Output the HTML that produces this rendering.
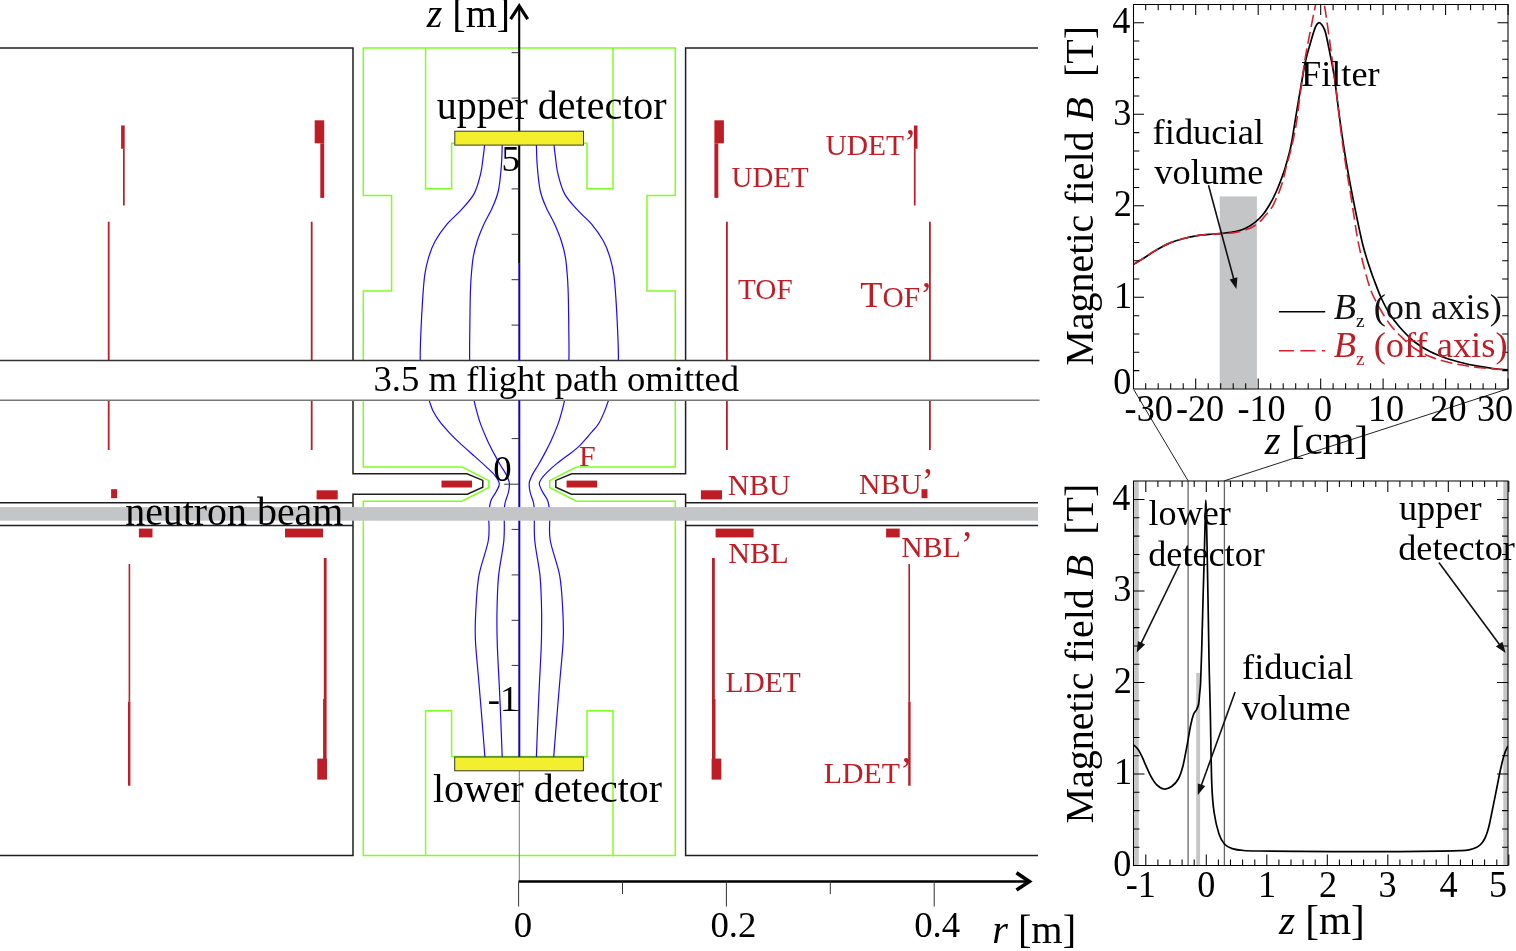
<!DOCTYPE html>
<html><head><meta charset="utf-8"><title>figure</title>
<style>html,body{margin:0;padding:0;background:#fff;} svg{display:block;}</style>
</head><body>
<svg width="1516" height="951" viewBox="0 0 1516 951" font-family="'Liberation Serif','Times New Roman',serif">
<rect width="1516" height="951" fill="#fff"/>
<rect x="714.4" y="120.3" width="9.5" height="23" fill="#be1d25"/>
<rect x="314.7" y="120.3" width="9.5" height="23" fill="#be1d25"/>
<rect x="714.4" y="143.3" width="3.9" height="54.6" fill="#be1d25"/>
<rect x="320.3" y="143.3" width="3.9" height="54.6" fill="#be1d25"/>
<rect x="913.9" y="125.5" width="3.6" height="23.3" fill="#be1d25"/>
<rect x="121.1" y="125.5" width="3.6" height="23.3" fill="#be1d25"/>
<rect x="913.9" y="148.8" width="1.7" height="56.7" fill="#be1d25"/>
<rect x="123" y="148.8" width="1.7" height="56.7" fill="#be1d25"/>
<rect x="726" y="221.7" width="1.8" height="228.3" fill="#be1d25"/>
<rect x="310.8" y="221.7" width="1.8" height="228.3" fill="#be1d25"/>
<rect x="929" y="221.7" width="1.8" height="228.3" fill="#be1d25"/>
<rect x="107.8" y="221.7" width="1.8" height="228.3" fill="#be1d25"/>
<rect x="700.9" y="490.3" width="21.1" height="9.1" fill="#be1d25"/>
<rect x="316.6" y="490.3" width="21.1" height="9.1" fill="#be1d25"/>
<rect x="921.5" y="489.2" width="6" height="9" fill="#be1d25"/>
<rect x="111.1" y="489.2" width="6" height="9" fill="#be1d25"/>
<rect x="715.6" y="528.6" width="38" height="8.8" fill="#be1d25"/>
<rect x="285" y="528.6" width="38" height="8.8" fill="#be1d25"/>
<rect x="886.1" y="528.6" width="13.6" height="8.8" fill="#be1d25"/>
<rect x="138.9" y="528.6" width="13.6" height="8.8" fill="#be1d25"/>
<rect x="712" y="558" width="2.8" height="141" fill="#be1d25"/>
<rect x="323.8" y="558" width="2.8" height="141" fill="#be1d25"/>
<rect x="712" y="699" width="3.5" height="61" fill="#be1d25"/>
<rect x="323.1" y="699" width="3.5" height="61" fill="#be1d25"/>
<rect x="711.6" y="758.6" width="9.7" height="21" fill="#be1d25"/>
<rect x="317.3" y="758.6" width="9.7" height="21" fill="#be1d25"/>
<rect x="908.4" y="564" width="1.6" height="137.5" fill="#be1d25"/>
<rect x="128.6" y="564" width="1.6" height="137.5" fill="#be1d25"/>
<rect x="908.2" y="701.5" width="2.4" height="84.2" fill="#be1d25"/>
<rect x="128" y="701.5" width="2.4" height="84.2" fill="#be1d25"/>
<rect x="441.5" y="480.6" width="30.5" height="6.9" fill="#be1d25"/>
<rect x="566.6" y="480.6" width="30.5" height="6.9" fill="#be1d25"/>
<path d="M519.3,48 L363.3,48 L363.3,195.4 L391.6,195.4 L391.6,291 L363.3,291 L363.3,467.1 L462.3,467.1 L488.9,480.7 L488.9,487.5 L462,501.2 L363.3,501.2 L363.3,855.5 L519.3,855.5" fill="none" stroke="#80ff22" stroke-width="1.5"/>
<path d="M519.3,48 L675.3,48 L675.3,195.4 L647,195.4 L647,291 L675.3,291 L675.3,467.1 L576.3,467.1 L549.7,480.7 L549.7,487.5 L576.6,501.2 L675.3,501.2 L675.3,855.5 L519.3,855.5" fill="none" stroke="#80ff22" stroke-width="1.5"/>
<path d="M425.6,48 L425.6,188.7 L451.6,188.7 L451.6,143.3 L519.3,143.3" fill="none" stroke="#80ff22" stroke-width="1.5"/>
<path d="M613,48 L613,188.7 L587,188.7 L587,143.3 L519.3,143.3" fill="none" stroke="#80ff22" stroke-width="1.5"/>
<path d="M425.6,855.5 L425.6,710.8 L451.6,710.8 L451.6,756.5 L519.3,756.5" fill="none" stroke="#80ff22" stroke-width="1.5"/>
<path d="M613,855.5 L613,710.8 L587,710.8 L587,756.5 L519.3,756.5" fill="none" stroke="#80ff22" stroke-width="1.5"/>
<path d="M0,48 L353,48 L353,473.7 L466.9,473.7 L482.8,480.4 L482.8,487.3 L467.3,494.2 L353,494.2 L353,855.5 L0,855.5" fill="none" stroke="#1e1e1e" stroke-width="1.5"/>
<path d="M1038,48 L685.6,48 L685.6,473.7 L571.7,473.7 L555.8,480.4 L555.8,487.3 L571.3,494.2 L685.6,494.2 L685.6,855.5 L1038,855.5" fill="none" stroke="#1e1e1e" stroke-width="1.5"/>
<line x1="0" y1="502.7" x2="353" y2="502.7" stroke="#1e1e1e" stroke-width="1.5"/>
<line x1="685.6" y1="502.7" x2="1038" y2="502.7" stroke="#1e1e1e" stroke-width="1.5"/>
<line x1="0" y1="525.6" x2="353" y2="525.6" stroke="#1e1e1e" stroke-width="1.5"/>
<line x1="685.6" y1="525.6" x2="1038" y2="525.6" stroke="#1e1e1e" stroke-width="1.5"/>
<path d="M484.6,145 C484.4,147 483.9,152 483.2,156.8 C482.5,161.6 482.2,167.5 480.7,173.7 C479.2,179.9 477.4,187.7 474,193.9 C470.6,200.1 465,205.7 460.5,210.7 C456,215.7 451.2,219 447,224.1 C442.8,229.2 438.3,235.4 435.2,241 C432.1,246.6 430.2,252.2 428.5,257.8 C426.8,263.4 425.8,267.6 424.8,274.6 C423.8,281.6 423.2,290.7 422.6,299.9 C422,309.1 421.4,320.3 421,330 C420.6,339.7 420.1,349.7 420.2,358 C420.3,366.3 420,372.9 421.5,380 C423,387.1 427.2,395.4 429.2,400.6 C431.1,405.8 431.4,407.7 433.2,411.2 C435,414.7 437.2,418.2 439.8,421.7 C442.4,425.2 445.7,428.8 449,432.3 C452.3,435.8 455.6,439.2 459.6,442.9 C463.6,446.6 468.4,450.8 472.8,454.7 C477.2,458.6 482.3,463.1 486,466.6 C489.7,470.1 493,472.9 495.2,475.8 C497.4,478.7 499.2,481.3 499.3,484 C499.4,486.7 497.4,489.1 496,492 C494.6,494.9 491.9,497.4 490.7,501.2 C489.5,505 489.2,508.5 488.8,515 C488.4,521.5 490,529.9 488.4,540 C486.8,550.1 481,563.8 478.9,575.6 C476.8,587.4 476.4,600.3 475.8,611 C475.2,621.7 474.9,627.8 475.4,639.7 C475.9,651.6 477.8,669.1 478.9,682.5 C480,695.9 481,707.6 482,720 C483,732.4 484.4,750.8 484.9,757" fill="none" stroke="#1c08ff" stroke-width="1.2"/>
<path d="M502.2,145 C502.1,148.4 502,157.6 501.4,165.2 C500.8,172.8 499.9,183.5 498.4,190.5 C496.9,197.5 494.9,201.7 492.5,207.3 C490.1,212.9 486.5,218.5 484,224.1 C481.5,229.7 479.1,235.4 477.3,241 C475.5,246.6 474.1,251.6 473.1,257.8 C472.1,264 471.6,271 471.1,278 C470.6,285 470.4,291.2 470.2,299.9 C470,308.6 469.9,320 469.8,330 C469.7,340 469.4,350.8 469.7,360 C470,369.2 470.8,378.2 471.5,385 C472.2,391.8 473.2,396.2 474.1,400.6 C475,405 475.6,407.2 476.7,411.2 C477.8,415.2 478.9,419.6 480.7,424.4 C482.5,429.2 485.1,435.4 487.3,440.2 C489.5,445 491.7,449.2 493.9,453.4 C496.1,457.6 498.5,461.9 500.5,465.3 C502.5,468.7 504.3,471 505.8,473.9 C507.3,476.8 508.9,479.7 509.3,482.7 C509.8,485.7 509.2,488.7 508.5,492 C507.8,495.3 505.9,499.2 505.2,502.5 C504.5,505.8 504.4,505.8 504.2,512 C504,518.2 504.8,529.4 503.9,540 C503,550.6 499.8,563.8 498.6,575.6 C497.5,587.4 497.2,599.4 497,611 C496.8,622.6 496.9,633.2 497.3,645 C497.7,656.8 498.5,669.5 499.1,682 C499.7,694.5 500.3,707.5 500.8,720 C501.3,732.5 502,750.8 502.2,757" fill="none" stroke="#1c08ff" stroke-width="1.2"/>
<path d="M536.4,145 C536.5,148.4 536.6,157.6 537.2,165.2 C537.8,172.8 538.7,183.5 540.2,190.5 C541.7,197.5 543.7,201.7 546.1,207.3 C548.5,212.9 552.1,218.5 554.6,224.1 C557.1,229.7 559.5,235.4 561.3,241 C563.1,246.6 564.5,251.6 565.5,257.8 C566.5,264 567,271 567.5,278 C568,285 568.2,291.2 568.4,299.9 C568.6,308.6 568.7,320 568.8,330 C568.9,340 569.2,350.8 568.9,360 C568.6,369.2 567.8,378.2 567.1,385 C566.4,391.8 565.4,396.2 564.5,400.6 C563.6,405 563,407.2 561.9,411.2 C560.8,415.2 559.7,419.6 557.9,424.4 C556.1,429.2 553.5,435.4 551.3,440.2 C549.1,445 546.9,449.2 544.7,453.4 C542.5,457.6 540.1,461.9 538.1,465.3 C536.1,468.7 534.3,471 532.8,473.9 C531.3,476.8 529.8,479.7 529.3,482.7 C528.8,485.7 529.4,488.7 530.1,492 C530.8,495.3 532.7,499.2 533.4,502.5 C534.1,505.8 534.2,505.8 534.4,512 C534.6,518.2 533.8,529.4 534.7,540 C535.6,550.6 538.8,563.8 540,575.6 C541.1,587.4 541.4,599.4 541.6,611 C541.8,622.6 541.6,633.2 541.3,645 C540.9,656.8 540.1,669.5 539.5,682 C538.9,694.5 538.3,707.5 537.8,720 C537.3,732.5 536.6,750.8 536.4,757" fill="none" stroke="#1c08ff" stroke-width="1.2"/>
<path d="M554,145 C554.2,147 554.7,152 555.4,156.8 C556,161.6 556.4,167.5 557.9,173.7 C559.4,179.9 561.2,187.7 564.6,193.9 C568,200.1 573.6,205.7 578.1,210.7 C582.6,215.7 587.4,219 591.6,224.1 C595.8,229.2 600.3,235.4 603.4,241 C606.5,246.6 608.4,252.2 610.1,257.8 C611.8,263.4 612.8,267.6 613.8,274.6 C614.8,281.6 615.4,290.7 616,299.9 C616.6,309.1 617.2,320.3 617.6,330 C618,339.7 618.5,349.7 618.4,358 C618.3,366.3 618.7,372.9 617.1,380 C615.4,387.1 610.5,395.4 608.5,400.5 C606.5,405.6 606.4,406.8 604.8,410.6 C603.2,414.4 601,419.7 598.9,423.2 C596.8,426.7 594.1,429.2 592.1,431.6 C590.1,434 589.2,435.1 587.1,437.5 C585,439.9 582.3,443.2 579.5,445.9 C576.7,448.6 574.1,450.6 570.3,453.5 C566.5,456.4 560.8,460.4 556.8,463.6 C552.8,466.8 549,470.3 546.5,472.8 C544,475.3 542.8,476.6 541.6,478.5 C540.4,480.4 539.1,481.8 539.3,484 C539.5,486.2 541.2,489.1 542.6,492 C544,494.9 546.7,497.4 547.9,501.2 C549.1,505 549.4,508.5 549.8,515 C550.2,521.5 548.5,529.9 550.2,540 C551.8,550.1 557.6,563.8 559.7,575.6 C561.8,587.4 562.2,600.3 562.8,611 C563.4,621.7 563.7,627.8 563.2,639.7 C562.7,651.6 560.8,669.1 559.7,682.5 C558.6,695.9 557.6,707.6 556.6,720 C555.6,732.4 554.2,750.8 553.7,757" fill="none" stroke="#1c08ff" stroke-width="1.2"/>
<rect x="0" y="360.5" width="1039.5" height="39.8" fill="#fff"/>
<line x1="0" y1="360.5" x2="1039.5" y2="360.5" stroke="#333" stroke-width="1.5"/>
<line x1="0" y1="400.3" x2="1039.5" y2="400.3" stroke="#777" stroke-width="1.5"/>
<rect x="0" y="507.1" width="1038" height="13.6" fill="#c4c5c7"/>
<line x1="519.2" y1="7" x2="519.2" y2="263.7" stroke="#000" stroke-width="2.1"/>
<line x1="519.3" y1="263.7" x2="519.3" y2="360.5" stroke="#1500c8" stroke-width="2"/>
<line x1="519.3" y1="400.3" x2="519.3" y2="507.1" stroke="#1500c8" stroke-width="2"/>
<line x1="519.3" y1="520.7" x2="519.3" y2="757" stroke="#1500c8" stroke-width="2"/>
<line x1="519.3" y1="770.8" x2="519.3" y2="881" stroke="#777" stroke-width="1"/>
<path d="M510.6,19.1 L519.2,5.9 L527.7,19.1" fill="none" stroke="#000" stroke-width="3.2" stroke-linejoin="miter" stroke-miterlimit="10"/>
<line x1="511.6" y1="52.7" x2="519" y2="52.7" stroke="#333" stroke-width="1"/>
<line x1="511.6" y1="98.1" x2="519" y2="98.1" stroke="#333" stroke-width="1"/>
<line x1="504.2" y1="143.5" x2="519" y2="143.5" stroke="#333" stroke-width="1"/>
<line x1="511.6" y1="188.9" x2="519" y2="188.9" stroke="#333" stroke-width="1"/>
<line x1="511.6" y1="234.3" x2="519" y2="234.3" stroke="#333" stroke-width="1"/>
<line x1="511.6" y1="279.7" x2="519" y2="279.7" stroke="#333" stroke-width="1"/>
<line x1="511.6" y1="325.1" x2="519" y2="325.1" stroke="#333" stroke-width="1"/>
<line x1="511.6" y1="438.6" x2="519" y2="438.6" stroke="#333" stroke-width="1"/>
<line x1="504.2" y1="484.2" x2="519" y2="484.2" stroke="#333" stroke-width="1"/>
<line x1="511.6" y1="529.4" x2="519" y2="529.4" stroke="#333" stroke-width="1"/>
<line x1="511.6" y1="574.9" x2="519" y2="574.9" stroke="#333" stroke-width="1"/>
<line x1="511.6" y1="620.3" x2="519" y2="620.3" stroke="#333" stroke-width="1"/>
<line x1="511.6" y1="665.4" x2="519" y2="665.4" stroke="#333" stroke-width="1"/>
<line x1="504.2" y1="710.5" x2="519" y2="710.5" stroke="#333" stroke-width="1"/>
<rect x="454.8" y="131.2" width="128.7" height="13.9" fill="#f4ef2e" stroke="#3a3a2a" stroke-width="1"/>
<rect x="454.7" y="757.0" width="128.7" height="13.8" fill="#f4ef2e" stroke="#3a3a2a" stroke-width="1"/>
<line x1="518.6" y1="881.5" x2="1028" y2="881.5" stroke="#000" stroke-width="2.5"/>
<path d="M1016.5,872.8 L1029.4,881.5 L1016.5,890.1" fill="none" stroke="#000" stroke-width="3.6" stroke-linejoin="miter" stroke-miterlimit="10"/>
<line x1="518.6" y1="881.4" x2="518.6" y2="906.5" stroke="#333" stroke-width="1"/>
<line x1="622.5" y1="881.4" x2="622.5" y2="894" stroke="#333" stroke-width="1"/>
<line x1="726.4" y1="881.4" x2="726.4" y2="906.5" stroke="#333" stroke-width="1"/>
<line x1="830.3" y1="881.4" x2="830.3" y2="894" stroke="#333" stroke-width="1"/>
<line x1="934.2" y1="881.4" x2="934.2" y2="906.5" stroke="#333" stroke-width="1"/>
<defs><clipPath id="ctop"><rect x="1133.5" y="4.6" width="374.5" height="384"/></clipPath><clipPath id="cbot"><rect x="1133.5" y="480.8" width="374.5" height="384.5"/></clipPath></defs>
<rect x="1219.7" y="196.4" width="37.2" height="192.2" fill="#c4c5c7"/>
<g clip-path="url(#ctop)"><path d="M1133.5,264.3 C1135.1,263.3 1139.4,260.9 1143.2,258.5 C1147,256.1 1152,252.5 1156.4,249.9 C1160.8,247.3 1165.2,245 1169.6,243.1 C1174,241.2 1178.4,239.9 1182.8,238.7 C1187.2,237.5 1191.6,236.5 1196,235.8 C1200.4,235.1 1204.8,234.8 1209.2,234.4 C1213.6,234 1217.9,233.8 1222.3,233.3 C1226.7,232.8 1231.5,232.4 1235.5,231.5 C1239.5,230.6 1242.8,229.6 1246.1,228 C1249.4,226.4 1252.5,224.4 1255.3,222.2 C1258.1,219.9 1260.8,217.1 1263,214.5 C1265.2,211.9 1266.8,209.3 1268.5,206.5 C1270.2,203.7 1272,200.6 1273.5,197.5 C1275,194.4 1276.5,191.2 1277.8,188 C1279.1,184.8 1280.3,181.9 1281.5,178.5 C1282.7,175.1 1283.7,173 1285.2,167.8 C1286.7,162.6 1289.1,154.7 1290.7,147.3 C1292.3,140 1293.4,131.6 1294.7,123.7 C1296,115.8 1297.3,107.5 1298.6,100 C1299.9,92.5 1301.1,85.2 1302.3,78.5 C1303.5,71.8 1304.3,66.2 1305.8,60 C1307.2,53.8 1309.5,46.4 1311,41 C1312.5,35.6 1313.8,30.9 1315.1,27.8 C1316.4,24.7 1317.7,23 1318.9,22.6 C1320.1,22.2 1321.2,23.9 1322.3,25.5 C1323.4,27.1 1324.2,27.6 1325.5,32.5 C1326.8,37.4 1328.7,47.4 1330.2,54.7 C1331.7,62.1 1333.1,69 1334.3,76.6 C1335.5,84.1 1336.3,92.2 1337.3,100 C1338.3,107.8 1339.1,114.5 1340.4,123.7 C1341.7,132.9 1343.4,144.7 1345.1,155.2 C1346.8,165.7 1348.7,176.2 1350.7,186.7 C1352.7,197.2 1355,208.8 1357,218.3 C1359,227.8 1360.7,236.1 1362.5,243.5 C1364.3,250.9 1366.1,256.6 1368,262.5 C1369.9,268.4 1371.5,273.2 1373.7,279 C1375.9,284.8 1378.4,291.8 1381,297.5 C1383.6,303.2 1386.2,308.5 1389.4,313.5 C1392.6,318.5 1395.8,322.8 1400,327.5 C1404.2,332.2 1409.7,338 1414.7,342 C1419.7,346 1424.7,348.8 1430,351.5 C1435.3,354.2 1441,356.4 1446.3,358.3 C1451.6,360.2 1456.8,361.5 1462,362.8 C1467.2,364.1 1472.6,365.2 1477.8,366.2 C1483,367.1 1488,367.9 1493,368.5 C1498,369.1 1505.5,369.7 1508,369.9" fill="none" stroke="#000" stroke-width="1.7"/>
<path d="M1133.5,264.3 C1135.1,263.3 1139.4,260.9 1143.2,258.5 C1147,256.1 1152,252.5 1156.4,249.9 C1160.8,247.3 1165.2,245 1169.6,243.1 C1174,241.2 1178.4,239.9 1182.8,238.7 C1187.2,237.5 1191.6,236.5 1196,235.8 C1200.4,235.1 1204.8,234.8 1209.2,234.4 C1213.6,234 1217.9,233.9 1222.3,233.6 C1226.7,233.3 1231.1,233.3 1235.5,232.5 C1239.9,231.7 1245.3,230.1 1248.7,228.8 C1252.1,227.5 1253.8,226.3 1256,224.8 C1258.2,223.3 1260,221.6 1261.9,219.6 C1263.8,217.6 1265.7,215.2 1267.5,213 C1269.3,210.8 1271.1,208.7 1272.5,206.4 C1273.9,204.1 1274.9,201.4 1276,199 C1277.1,196.6 1277.9,195 1279.1,191.9 C1280.3,188.8 1281.8,184.5 1283,180.5 C1284.2,176.5 1284.6,173.3 1286,167.8 C1287.4,162.3 1289.8,154.7 1291.5,147.3 C1293.2,140 1295,131.6 1296.3,123.7 C1297.6,115.8 1298,110.6 1299.4,100 C1300.8,89.4 1303.1,71.7 1304.9,60 C1306.8,48.3 1308.9,38.3 1310.5,30 C1312.1,21.7 1313.5,14.8 1314.5,10 C1315.5,5.2 1315.6,4 1316.5,1 C1317.4,-2 1318.7,-8 1319.8,-8 C1320.9,-8 1322.3,-2.8 1323.3,1 C1324.3,4.8 1324.5,5.2 1326,15 C1327.5,24.8 1330.3,45.8 1332.2,60 C1334.1,74.2 1335.7,86.8 1337.3,100 C1338.9,113.2 1340.4,127.6 1342,139.4 C1343.6,151.2 1345.2,161.8 1346.7,171 C1348.2,180.2 1349.4,186.4 1350.7,194.6 C1352,202.8 1353.4,212.3 1354.6,220 C1355.8,227.7 1356.6,233.8 1358,241 C1359.4,248.2 1360.9,254.9 1363,263 C1365.1,271.1 1367.8,282.1 1370.5,289.4 C1373.2,296.7 1375.8,301.1 1379,307 C1382.2,312.9 1386.3,319.6 1390,324.5 C1393.7,329.4 1396.9,332.5 1401,336.5 C1405.1,340.5 1409.9,345.2 1414.7,348.5 C1419.5,351.8 1424.7,354.3 1430,356.5 C1435.3,358.7 1441,360.4 1446.3,361.8 C1451.6,363.2 1456.8,364.1 1462,365 C1467.2,365.9 1472.6,366.8 1477.8,367.4 C1483,368 1488,368.5 1493,368.9 C1498,369.3 1505.5,369.7 1508,369.9" fill="none" stroke="#d8202e" stroke-width="1.6" stroke-dasharray="12 5"/></g>
<path d="M1133.5,4.5H1508V389H1133.5Z" fill="none" stroke="#000" stroke-width="1.05" stroke-linecap="square"/>
<path d="M1195.7,389V378.5M1195.7,4.5V15M1258.2,389V378.5M1258.2,4.5V15M1320.7,389V378.5M1320.7,4.5V15M1383.1,389V378.5M1383.1,4.5V15M1445.6,389V378.5M1445.6,4.5V15M1508.1,389V378.5M1508.1,4.5V15M1145.7,389V383.2M1145.7,4.5V10.3M1158.2,389V383.2M1158.2,4.5V10.3M1170.7,389V383.2M1170.7,4.5V10.3M1183.2,389V383.2M1183.2,4.5V10.3M1208.2,389V383.2M1208.2,4.5V10.3M1220.7,389V383.2M1220.7,4.5V10.3M1233.2,389V383.2M1233.2,4.5V10.3M1245.7,389V383.2M1245.7,4.5V10.3M1270.7,389V383.2M1270.7,4.5V10.3M1283.2,389V383.2M1283.2,4.5V10.3M1295.7,389V383.2M1295.7,4.5V10.3M1308.2,389V383.2M1308.2,4.5V10.3M1333.1,389V383.2M1333.1,4.5V10.3M1345.6,389V383.2M1345.6,4.5V10.3M1358.1,389V383.2M1358.1,4.5V10.3M1370.6,389V383.2M1370.6,4.5V10.3M1395.6,389V383.2M1395.6,4.5V10.3M1408.1,389V383.2M1408.1,4.5V10.3M1420.6,389V383.2M1420.6,4.5V10.3M1433.1,389V383.2M1433.1,4.5V10.3M1458.1,389V383.2M1458.1,4.5V10.3M1470.6,389V383.2M1470.6,4.5V10.3M1483.1,389V383.2M1483.1,4.5V10.3M1495.6,389V383.2M1495.6,4.5V10.3M1133.5,297.3H1144M1508,297.3H1497.5M1133.5,205.8H1144M1508,205.8H1497.5M1133.5,114.2H1144M1508,114.2H1497.5M1133.5,22.7H1144M1508,22.7H1497.5M1133.5,370.6H1139.3M1508,370.6H1502.2M1133.5,352.3H1139.3M1508,352.3H1502.2M1133.5,334H1139.3M1508,334H1502.2M1133.5,315.7H1139.3M1508,315.7H1502.2M1133.5,279H1139.3M1508,279H1502.2M1133.5,260.7H1139.3M1508,260.7H1502.2M1133.5,242.4H1139.3M1508,242.4H1502.2M1133.5,224.1H1139.3M1508,224.1H1502.2M1133.5,187.5H1139.3M1508,187.5H1502.2M1133.5,169.2H1139.3M1508,169.2H1502.2M1133.5,150.9H1139.3M1508,150.9H1502.2M1133.5,132.6H1139.3M1508,132.6H1502.2M1133.5,95.9H1139.3M1508,95.9H1502.2M1133.5,77.6H1139.3M1508,77.6H1502.2M1133.5,59.3H1139.3M1508,59.3H1502.2M1133.5,41H1139.3M1508,41H1502.2" fill="none" stroke="#000" stroke-width="1.05"/>
<line x1="1208.5" y1="185.3" x2="1234.1" y2="280.3" stroke="#111" stroke-width="1.6"/>
<path d="M1236.4,289 L1229.7,279.4 L1237.4,277.3 Z" fill="#111"/>
<line x1="1278.9" y1="311.8" x2="1325.2" y2="311.8" stroke="#000" stroke-width="1.6"/>
<line x1="1278.9" y1="350.7" x2="1325.2" y2="350.7" stroke="#d8202e" stroke-width="1.6" stroke-dasharray="15 6.5"/>
<rect x="1134.2" y="480.8" width="4.5" height="384.5" fill="#c4c5c7"/>
<rect x="1503.3" y="480.8" width="4.5" height="384.5" fill="#c4c5c7"/>
<rect x="1196.2" y="672.9" width="3.9" height="192.4" fill="#c4c5c7"/>
<line x1="1188.1" y1="480.8" x2="1188.1" y2="865.3" stroke="#666" stroke-width="1.3"/>
<line x1="1224.4" y1="480.8" x2="1224.4" y2="865.3" stroke="#666" stroke-width="1.3"/>
<g clip-path="url(#cbot)"><path d="M1133.5,744.9 C1134.2,745.5 1136.3,747 1137.6,748.7 C1138.9,750.4 1140.2,752.8 1141.4,755.3 C1142.7,757.8 1143.5,760.3 1145.1,763.8 C1146.7,767.3 1148.9,772.6 1150.8,776.1 C1152.7,779.6 1154.3,782.5 1156.5,784.6 C1158.7,786.8 1161.6,788.7 1164.1,789 C1166.6,789.3 1169.2,788.2 1171.6,786.5 C1174,784.8 1176.4,782.5 1178.3,779 C1180.2,775.5 1181.6,771.1 1183,765.7 C1184.4,760.3 1185.5,753.5 1186.8,746.8 C1188.1,740.1 1189.5,730.9 1190.6,725.5 C1191.7,720.1 1192.5,717.2 1193.5,714.5 C1194.5,711.8 1195.8,711.2 1196.6,709.5 C1197.4,707.8 1198.1,706.6 1198.6,704 C1199.1,701.4 1199.3,697.5 1199.6,694 C1199.9,690.5 1200.2,690.3 1200.6,683 C1200.9,675.7 1201.3,663.8 1201.7,650 C1202.1,636.2 1202.6,615.8 1203,600 C1203.4,584.2 1203.9,569.2 1204.3,555 C1204.7,540.8 1205,524.2 1205.3,515 C1205.5,505.8 1205.6,500 1205.8,500 C1206,500 1206.2,505 1206.4,515 C1206.7,525 1207,544.2 1207.3,560 C1207.6,575.8 1207.9,593.5 1208.2,610 C1208.5,626.5 1208.7,642.8 1209,659 C1209.3,675.2 1209.7,686.5 1210.2,707.4 C1210.7,728.3 1211.1,767 1211.8,784.6 C1212.5,802.2 1213,804.8 1214.2,813 C1215.4,821.2 1217.3,828.7 1219,833.9 C1220.7,839.1 1222.4,841.8 1224.6,844.3 C1226.8,846.8 1229,847.6 1232.2,848.6 C1235.4,849.6 1239,850.1 1243.6,850.5 C1248.2,850.9 1250.6,850.9 1260,851 C1269.4,851.1 1285,851.3 1300,851.4 C1315,851.5 1333.3,851.6 1350,851.6 C1366.7,851.6 1385,851.7 1400,851.6 C1415,851.5 1430,851.3 1440,851.1 C1450,850.9 1455.2,850.8 1460,850.6 C1464.8,850.4 1466.2,850.4 1469,849.8 C1471.8,849.2 1474.7,848.2 1476.8,847.2 C1478.9,846.2 1480.2,845 1481.5,843.5 C1482.8,842 1483.8,840.5 1484.8,838.5 C1485.8,836.5 1486.7,834 1487.5,831.5 C1488.3,829 1488.7,827.5 1489.6,823.5 C1490.5,819.5 1491.7,813.2 1492.9,807.4 C1494.1,801.6 1495.4,794.8 1496.7,788.5 C1498,782.2 1499.2,775.2 1500.5,769.5 C1501.8,763.8 1503,758.3 1504.3,754.4 C1505.5,750.5 1507.4,747.3 1508,745.9" fill="none" stroke="#000" stroke-width="1.7"/></g>
<path d="M1133.5,481H1508V865.5H1133.5Z" fill="none" stroke="#000" stroke-width="1.05" stroke-linecap="square"/>
<path d="M1145.8,865.5V854.5M1145.8,481V492M1206.3,865.5V854.5M1206.3,481V492M1266.8,865.5V854.5M1266.8,481V492M1327.3,865.5V854.5M1327.3,481V492M1387.8,865.5V854.5M1387.8,481V492M1448.3,865.5V854.5M1448.3,481V492M1508.8,865.5V854.5M1508.8,481V492M1157.9,865.5V859.5M1157.9,481V487M1170,865.5V859.5M1170,481V487M1182.1,865.5V859.5M1182.1,481V487M1194.2,865.5V859.5M1194.2,481V487M1218.4,865.5V859.5M1218.4,481V487M1230.5,865.5V859.5M1230.5,481V487M1242.6,865.5V859.5M1242.6,481V487M1254.8,865.5V859.5M1254.8,481V487M1278.9,865.5V859.5M1278.9,481V487M1291,865.5V859.5M1291,481V487M1303.1,865.5V859.5M1303.1,481V487M1315.2,865.5V859.5M1315.2,481V487M1339.4,865.5V859.5M1339.4,481V487M1351.5,865.5V859.5M1351.5,481V487M1363.6,865.5V859.5M1363.6,481V487M1375.8,865.5V859.5M1375.8,481V487M1399.9,865.5V859.5M1399.9,481V487M1412,865.5V859.5M1412,481V487M1424.1,865.5V859.5M1424.1,481V487M1436.2,865.5V859.5M1436.2,481V487M1460.4,865.5V859.5M1460.4,481V487M1472.5,865.5V859.5M1472.5,481V487M1484.6,865.5V859.5M1484.6,481V487M1496.8,865.5V859.5M1496.8,481V487M1133.5,774H1144.5M1508,774H1497M1133.5,682.5H1144.5M1508,682.5H1497M1133.5,591H1144.5M1508,591H1497M1133.5,499.5H1144.5M1508,499.5H1497M1133.5,847.2H1139.5M1508,847.2H1502M1133.5,828.9H1139.5M1508,828.9H1502M1133.5,810.6H1139.5M1508,810.6H1502M1133.5,792.3H1139.5M1508,792.3H1502M1133.5,755.7H1139.5M1508,755.7H1502M1133.5,737.4H1139.5M1508,737.4H1502M1133.5,719.1H1139.5M1508,719.1H1502M1133.5,700.8H1139.5M1508,700.8H1502M1133.5,664.2H1139.5M1508,664.2H1502M1133.5,645.9H1139.5M1508,645.9H1502M1133.5,627.6H1139.5M1508,627.6H1502M1133.5,609.3H1139.5M1508,609.3H1502M1133.5,572.7H1139.5M1508,572.7H1502M1133.5,554.4H1139.5M1508,554.4H1502M1133.5,536.1H1139.5M1508,536.1H1502M1133.5,517.8H1139.5M1508,517.8H1502" fill="none" stroke="#000" stroke-width="1.05"/>
<line x1="1179.7" y1="564" x2="1140.6" y2="644.4" stroke="#111" stroke-width="1.6"/>
<path d="M1136.7,652.5 L1137.9,640.9 L1145.1,644.4 Z" fill="#111"/>
<line x1="1438.9" y1="562.5" x2="1500.4" y2="645.7" stroke="#111" stroke-width="1.6"/>
<path d="M1505.7,652.9 L1495.9,646.4 L1502.4,641.7 Z" fill="#111"/>
<line x1="1235.1" y1="691.9" x2="1200.9" y2="786.6" stroke="#111" stroke-width="1.6"/>
<path d="M1197.8,795.1 L1197.8,783.4 L1205.3,786.1 Z" fill="#111"/>
<line x1="1134.0" y1="390.0" x2="1188.1" y2="480.8" stroke="#222" stroke-width="1"/>
<line x1="1507.8" y1="388.8" x2="1224.4" y2="480.8" stroke="#222" stroke-width="1"/>
<text x="426.70" y="26.90" font-size="40.05" fill="#000" text-anchor="start" ><tspan font-style="italic">z</tspan> [m]</text>
<text x="436.70" y="118.60" font-size="40.00" fill="#000" text-anchor="start" >upper detector</text>
<text x="433.00" y="801.60" font-size="39.86" fill="#000" text-anchor="start" >lower detector</text>
<text x="125.20" y="525.10" font-size="39.89" fill="#000" text-anchor="start" >neutron beam</text>
<text x="373.47" y="390.90" font-size="36.66" fill="#000" text-anchor="start" >3.5 m flight path omitted</text>
<text x="501.53" y="170.60" font-size="36.80" fill="#000" text-anchor="start" >5</text>
<text x="493.15" y="480.70" font-size="36.80" fill="#000" text-anchor="start" >0</text>
<text x="487.75" y="710.50" font-size="36.80" fill="#000" text-anchor="start" >-1</text>
<text x="513.85" y="936.80" font-size="36.80" fill="#000" text-anchor="start" >0</text>
<text x="710.48" y="936.80" font-size="36.80" fill="#000" text-anchor="start" >0.2</text>
<text x="914.15" y="936.80" font-size="36.80" fill="#000" text-anchor="start" >0.4</text>
<text x="992.19" y="943.10" font-size="40.25" fill="#000" text-anchor="start" ><tspan font-style="italic">r</tspan> [m]</text>
<text x="731.62" y="187.20" font-size="28.90" fill="#be1d25" text-anchor="start" >UDET</text>
<text x="825.46" y="154.80" font-size="36.89" fill="#be1d25" text-anchor="start" ><tspan style="font-size:0.8em">UDET</tspan>’</text>
<text x="738.02" y="298.70" font-size="29.23" fill="#be1d25" text-anchor="start" >TOF</text>
<text x="860.27" y="306.80" font-size="36.36" fill="#be1d25" text-anchor="start" >T<tspan style="font-size:0.81em">OF</tspan>’</text>
<text x="579.00" y="466.00" font-size="30.00" fill="#be1d25" text-anchor="start" >F</text>
<text x="727.81" y="495.10" font-size="29.61" fill="#be1d25" text-anchor="start" >NBU</text>
<text x="859.06" y="494.10" font-size="37.02" fill="#be1d25" text-anchor="start" ><tspan style="font-size:0.8em">NBU</tspan>’</text>
<text x="728.29" y="562.80" font-size="30.21" fill="#be1d25" text-anchor="start" >NBL</text>
<text x="901.26" y="556.80" font-size="37.20" fill="#be1d25" text-anchor="start" ><tspan style="font-size:0.8em">NBL</tspan>’</text>
<text x="725.62" y="692.30" font-size="29.44" fill="#be1d25" text-anchor="start" >LDET</text>
<text x="823.85" y="783.00" font-size="37.26" fill="#be1d25" text-anchor="start" ><tspan style="font-size:0.8em">LDET</tspan>’</text>
<text x="1301.01" y="86.10" font-size="36.29" fill="#000" text-anchor="start" >Filter</text>
<text x="1152.61" y="143.70" font-size="36.48" fill="#000" text-anchor="start" >fiducial</text>
<text x="1154.20" y="183.80" font-size="36.40" fill="#000" text-anchor="start" >volume</text>
<text x="1264.71" y="453.90" font-size="40.98" fill="#000" text-anchor="start" ><tspan font-style="italic">z</tspan> [cm]</text>
<text x="1333.74" y="319.40" font-size="36.39" fill="#111" text-anchor="start" ><tspan font-style="italic">B</tspan><tspan style="font-size:0.53em" dy="0.38em">z</tspan><tspan dy="-0.2em"> (on axis)</tspan></text>
<text x="1333.74" y="357.20" font-size="36.44" fill="#be1d25" text-anchor="start" ><tspan font-style="italic">B</tspan><tspan style="font-size:0.53em" dy="0.38em">z</tspan><tspan dy="-0.2em"> (off axis)</tspan></text>
<text x="1279.01" y="933.90" font-size="41.19" fill="#000" text-anchor="start" ><tspan font-style="italic">z</tspan> [m]</text>
<text x="1148.58" y="524.90" font-size="36.13" fill="#000" text-anchor="start" >lower</text>
<text x="1148.21" y="565.50" font-size="36.23" fill="#000" text-anchor="start" >detector</text>
<text x="1398.94" y="519.90" font-size="36.28" fill="#000" text-anchor="start" >upper</text>
<text x="1398.21" y="560.00" font-size="36.23" fill="#000" text-anchor="start" >detector</text>
<text x="1242.01" y="679.20" font-size="36.48" fill="#000" text-anchor="start" >fiducial</text>
<text x="1241.70" y="719.70" font-size="36.30" fill="#000" text-anchor="start" >volume</text>
<text transform="translate(1124.60,421.20) scale(0.945,1)" font-size="38.3">-30</text>
<text transform="translate(1175.95,421.20) scale(0.945,1)" font-size="38.3">-20</text>
<text transform="translate(1237.40,421.20) scale(0.945,1)" font-size="38.3">-10</text>
<text transform="translate(1314.00,421.20) scale(0.945,1)" font-size="38.3">0</text>
<text transform="translate(1367.95,421.20) scale(0.945,1)" font-size="38.3">10</text>
<text transform="translate(1430.35,421.20) scale(0.945,1)" font-size="38.3">20</text>
<text transform="translate(1476.97,421.20) scale(0.945,1)" font-size="38.3">30</text>
<text transform="translate(1125.74,896.80) scale(0.945,1)" font-size="38.3">-1</text>
<text transform="translate(1197.25,896.80) scale(0.945,1)" font-size="38.3">0</text>
<text transform="translate(1257.91,896.80) scale(0.945,1)" font-size="38.3">1</text>
<text transform="translate(1318.93,896.80) scale(0.945,1)" font-size="38.3">2</text>
<text transform="translate(1378.62,896.80) scale(0.945,1)" font-size="38.3">3</text>
<text transform="translate(1439.62,896.80) scale(0.945,1)" font-size="38.3">4</text>
<text transform="translate(1488.99,896.80) scale(0.945,1)" font-size="38.3">5</text>
<text transform="translate(1113.35,394.30) scale(0.945,1)" font-size="38.3">0</text>
<text transform="translate(1114.07,307.90) scale(0.945,1)" font-size="38.3">1</text>
<text transform="translate(1113.71,216.30) scale(0.945,1)" font-size="38.3">2</text>
<text transform="translate(1113.35,124.75) scale(0.945,1)" font-size="38.3">3</text>
<text transform="translate(1112.27,33.20) scale(0.945,1)" font-size="38.3">4</text>
<text transform="translate(1113.35,875.60) scale(0.945,1)" font-size="38.3">0</text>
<text transform="translate(1114.07,784.20) scale(0.945,1)" font-size="38.3">1</text>
<text transform="translate(1113.71,692.70) scale(0.945,1)" font-size="38.3">2</text>
<text transform="translate(1113.35,601.20) scale(0.945,1)" font-size="38.3">3</text>
<text transform="translate(1112.27,509.70) scale(0.945,1)" font-size="38.3">4</text>
<text transform="translate(1093.1,365.80) rotate(-90)" font-size="40" style="white-space:pre">Magnetic field <tspan font-style="italic">B</tspan>  [T]</text>
<text transform="translate(1093.1,823.60) rotate(-90)" font-size="40" style="white-space:pre">Magnetic field <tspan font-style="italic">B</tspan>  [T]</text>
</svg>
</body></html>
